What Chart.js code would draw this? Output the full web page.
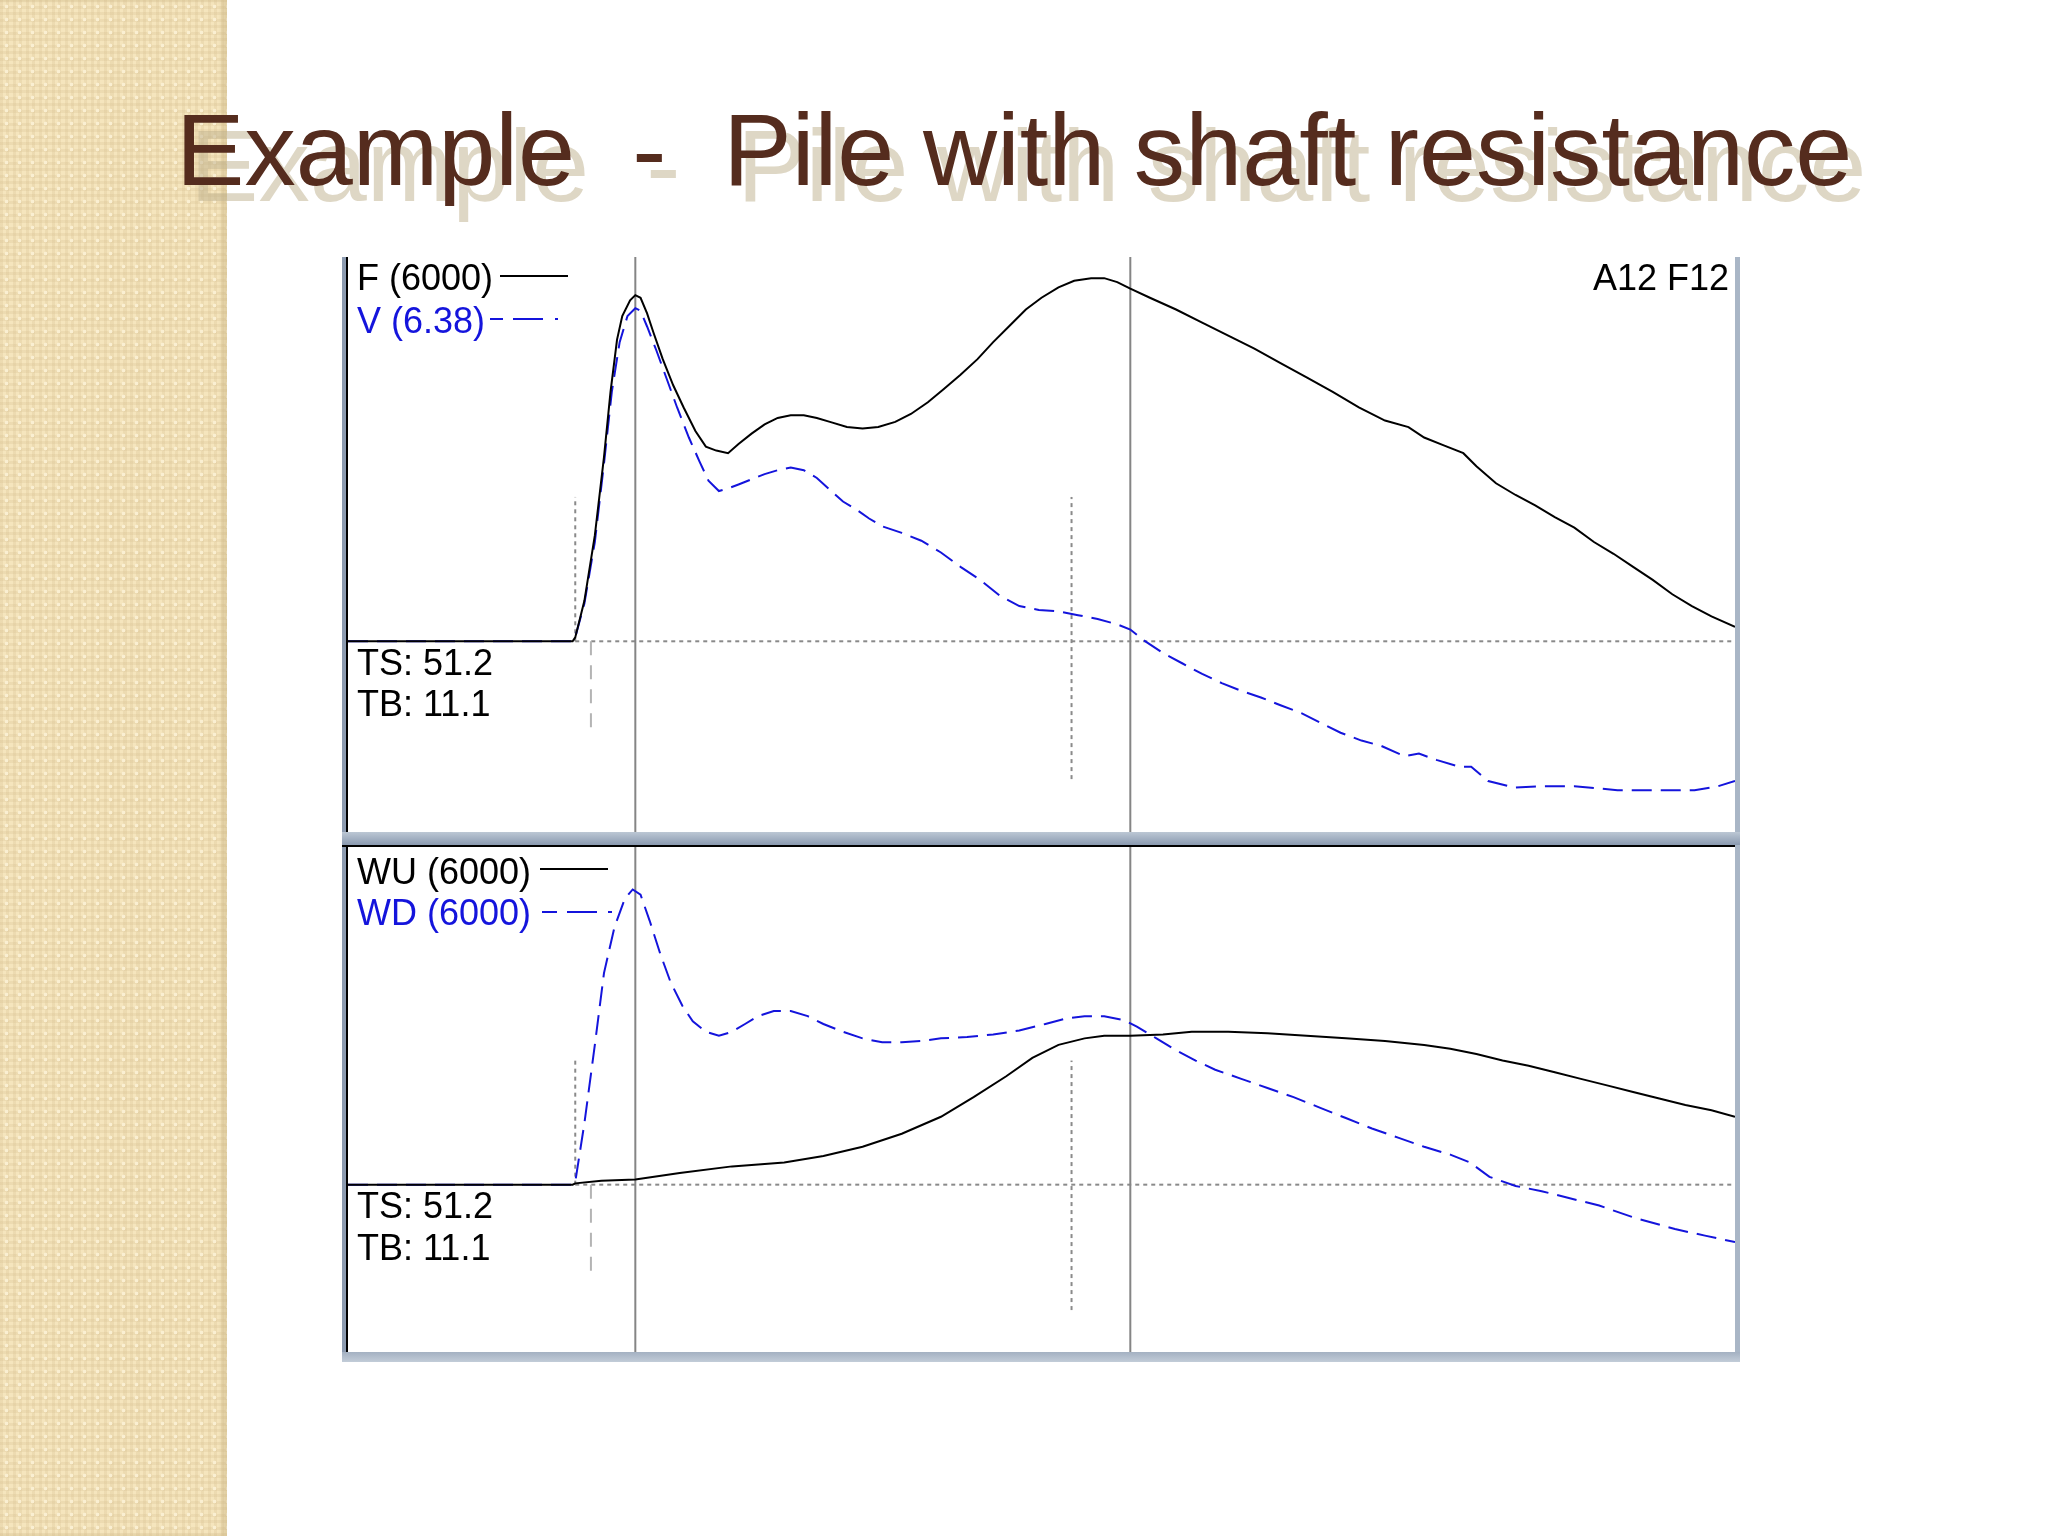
<!DOCTYPE html>
<html>
<head>
<meta charset="utf-8">
<script src="https://cdn.jsdelivr.net/npm/chart.js@4.4.1/dist/chart.umd.min.js"></script>
<style>
  html, body { margin: 0; padding: 0; background: #fff; }
  body { width: 2048px; height: 1536px; position: relative; overflow: hidden; font-family: "Liberation Sans", Arial, sans-serif; }
  .strip {
    position: absolute; left: 0; top: 0; width: 227px; height: 1536px;
    background-color: #f5e5bd;
    background-image:
      radial-gradient(circle, #faefd2 1.5px, transparent 2.2px),
      repeating-linear-gradient(90deg, rgba(215,192,145,0.28) 0 3px, transparent 3px 6.5px),
      repeating-linear-gradient(0deg, rgba(215,192,145,0.28) 0 3px, transparent 3px 6.5px);
    background-size: 13px 13px, auto, auto;
    box-shadow: inset -5px 0 4px rgba(190,165,115,0.35);
  }
  .title {
    position: absolute; left: 176px; top: 99px; font-size: 102.6px; line-height: 102px;
    white-space: pre; color: #552c1e;
    text-shadow: 14px 16px 0 rgba(190,176,140,0.5);
  }
  .lbl { position: absolute; font-size: 36px; line-height: 36px; white-space: pre; color: #000; }
  .blue { color: #1414dc; }
  canvas { position: absolute; }
  .bar { position: absolute; }
  svg { position: absolute; left: 0; top: 0; }
</style>
</head>
<body>
<div class="strip"></div>
<div class="title">Example  -  Pile with shaft resistance</div>

<!-- panel frame -->
<div class="bar" style="left:342px;top:257px;width:4px;height:1105px;background:#8c9bb0"></div>
<div class="bar" style="left:346px;top:257px;width:2px;height:1095px;background:#000"></div>
<div class="bar" style="left:1735px;top:257px;width:5px;height:1105px;background:#a9b6c6"></div>
<div class="bar" style="left:342px;top:832px;width:1398px;height:13px;background:linear-gradient(#bcc7d4,#8a9ab0)"></div>
<div class="bar" style="left:342px;top:845px;width:1393px;height:2px;background:#000"></div>
<div class="bar" style="left:342px;top:1352px;width:1398px;height:10px;background:linear-gradient(#a4b1c2,#c2ccd8)"></div>

<canvas id="topChart" width="1387" height="575" style="left:348px;top:257px"></canvas>
<canvas id="bottomChart" width="1387" height="505" style="left:348px;top:847px"></canvas>

<!-- labels -->
<div class="lbl" style="left:357px;top:260px">F (6000)</div>
<div class="lbl blue" style="left:357px;top:303px">V (6.38)</div>
<div class="lbl" style="left:1593px;top:260px">A12 F12</div>
<div class="lbl" style="left:357px;top:645px">TS: 51.2</div>
<div class="lbl" style="left:357px;top:686px">TB: 11.1</div>

<div class="lbl" style="left:357px;top:854px">WU (6000)</div>
<div class="lbl blue" style="left:357px;top:895px">WD (6000)</div>
<div class="lbl" style="left:357px;top:1188px">TS: 51.2</div>
<div class="lbl" style="left:357px;top:1230px">TB: 11.1</div>

<svg width="2048" height="1536">
  <line x1="500" y1="276" x2="568" y2="276" stroke="#000" stroke-width="2"/>
  <line x1="490" y1="319" x2="558" y2="319" stroke="#1414dc" stroke-width="2" stroke-dasharray="13 10 30 12 3 100"/>
  <line x1="540" y1="869" x2="608" y2="869" stroke="#000" stroke-width="2"/>
  <line x1="542" y1="912" x2="612" y2="912" stroke="#1414dc" stroke-width="2" stroke-dasharray="15 10 30 11 4 100"/>
</svg>

<script>
// time axis in ms, forces in kN (velocity shown in force units)
var fTime = [0, 8.6, 8.7, 9.05, 9.45, 9.8, 10.05, 10.3, 10.5, 10.8, 11.0, 11.2, 11.45, 11.7, 12.05, 12.45, 12.85, 13.3, 13.7, 14.1, 14.55, 14.95, 15.45, 15.95, 16.45, 16.95, 17.45, 17.95, 18.45, 19.1, 19.7, 20.3, 20.95, 21.55, 22.2, 22.8, 23.45, 24.1, 24.7, 25.3, 25.95, 26.55, 27.2, 27.8, 28.45, 28.95, 29.45, 29.95, 30.7, 31.7, 32.7, 33.7, 34.7, 35.7, 36.7, 37.7, 38.7, 39.7, 40.6, 41.2, 41.95, 42.7, 43.2, 43.95, 44.7, 45.45, 46.2, 46.95, 47.7, 48.45, 49.2, 49.95, 50.7, 51.45, 52.2, 53.1];
var fForce = [0, 0, 60, 620, 1620, 2820, 3820, 4620, 4980, 5220, 5300, 5260, 5020, 4720, 4320, 3920, 3580, 3220, 2980, 2920, 2880, 3020, 3180, 3320, 3420, 3460, 3460, 3420, 3360, 3280, 3260, 3280, 3360, 3480, 3660, 3860, 4080, 4320, 4580, 4820, 5080, 5260, 5420, 5520, 5560, 5560, 5500, 5400, 5260, 5080, 4880, 4680, 4480, 4260, 4040, 3820, 3580, 3380, 3280, 3120, 3000, 2880, 2680, 2420, 2240, 2080, 1900, 1740, 1520, 1340, 1140, 940, 720, 540, 380, 220];

var vTime = [0, 8.6, 8.7, 9.05, 9.45, 9.8, 10.1, 10.4, 10.7, 11.0, 11.2, 11.45, 11.8, 12.2, 12.6, 13.05, 13.45, 13.8, 14.2, 14.55, 14.95, 15.45, 15.95, 16.45, 16.95, 17.45, 17.95, 18.45, 18.95, 19.45, 19.95, 20.45, 21.2, 21.95, 22.7, 23.45, 24.2, 24.95, 25.7, 26.45, 27.2, 27.95, 28.7, 29.45, 29.95, 30.45, 31.2, 31.95, 32.7, 33.45, 34.2, 34.95, 35.7, 36.5, 37.2, 38.0, 38.8, 39.55, 40.45, 41.0, 41.7, 42.55, 43.0, 43.65, 44.65, 45.7, 46.95, 48.6, 49.95, 51.55, 52.45, 53.1];
var vForce = [0, 0, 60, 580, 1520, 2720, 3820, 4580, 4980, 5100, 5060, 4820, 4460, 4020, 3580, 3120, 2760, 2460, 2300, 2340, 2400, 2480, 2560, 2620, 2660, 2620, 2500, 2320, 2140, 2020, 1880, 1760, 1660, 1540, 1360, 1140, 940, 700, 540, 480, 460, 400, 340, 260, 180, 20, -180, -340, -500, -640, -760, -860, -980, -1100, -1240, -1400, -1520, -1600, -1760, -1720, -1820, -1920, -1920, -2140, -2240, -2220, -2220, -2280, -2280, -2280, -2220, -2140];

var wuTime = [0, 8.6, 8.7, 9.7, 11.0, 12.7, 14.7, 16.7, 18.2, 19.7, 21.2, 22.7, 23.95, 25.2, 26.2, 27.2, 28.2, 28.95, 29.95, 31.2, 32.3, 33.7, 35.2, 36.7, 38.2, 39.7, 41.2, 42.2, 43.2, 44.2, 45.2, 46.2, 47.2, 48.2, 49.2, 50.2, 51.2, 52.2, 53.1];
var wuForce = [0, 0, 20, 60, 80, 180, 280, 340, 440, 580, 780, 1040, 1340, 1660, 1940, 2140, 2240, 2280, 2280, 2300, 2340, 2340, 2320, 2280, 2240, 2200, 2140, 2080, 2000, 1900, 1820, 1720, 1620, 1520, 1420, 1320, 1220, 1140, 1040];

var wdTime = [0, 8.6, 8.7, 9.05, 9.45, 9.8, 10.2, 10.6, 10.9, 11.2, 11.55, 11.95, 12.35, 12.8, 13.2, 13.7, 14.2, 14.7, 15.2, 15.7, 16.3, 16.95, 17.6, 18.2, 18.95, 19.7, 20.45, 21.2, 21.95, 22.7, 23.7, 24.7, 25.7, 26.7, 27.45, 28.2, 28.95, 29.7, 30.2, 30.95, 31.7, 32.45, 33.2, 34.2, 35.2, 36.2, 37.2, 38.2, 39.2, 40.2, 41.2, 42.2, 42.95, 43.7, 44.7, 45.7, 46.7, 47.9, 49.2, 50.8, 51.95, 53.1];
var wdForce = [0, 0, 40, 940, 2140, 3240, 3940, 4380, 4520, 4440, 4040, 3540, 3100, 2740, 2500, 2340, 2280, 2340, 2460, 2580, 2660, 2660, 2580, 2460, 2340, 2240, 2180, 2180, 2200, 2240, 2260, 2300, 2360, 2460, 2540, 2580, 2580, 2520, 2420, 2240, 2060, 1900, 1760, 1620, 1480, 1340, 1180, 1020, 860, 720, 580, 460, 340, 120, -20, -100, -200, -320, -500, -680, -780, -880];

// cursor and marker times (ms)
var cursorTimes = [11.0, 29.95];
var markerTimes = [8.7, 9.3, 27.7];
var tEnd = 53.1;

function pts(t, v) {
  return t.map(function (x, i) { return { x: x, y: v[i] }; });
}
function seg(x1, y1, x2, y2, color, dash) {
  return { data: [{ x: x1, y: y1 }, { x: x2, y: y2 }], borderColor: color, borderWidth: 2, borderDash: dash || [] };
}

function makeChart(id, solid, dashed, yMin, yMax, dotTop, dashBot, dot2Top, dot2Bot) {
  var ds = [
    { data: solid, borderColor: '#000', borderWidth: 2 },
    { data: dashed, borderColor: '#1414dc', borderWidth: 2, borderDash: [20, 9] },
    seg(cursorTimes[0], yMin, cursorTimes[0], yMax, '#858585'),
    seg(cursorTimes[1], yMin, cursorTimes[1], yMax, '#858585'),
    seg(markerTimes[0], 0, markerTimes[0], dotTop, '#8a8a8a', [4, 4]),
    seg(markerTimes[1], 0, markerTimes[1], dashBot, '#b4b4b4', [14, 10]),
    seg(markerTimes[2], dot2Bot, markerTimes[2], dot2Top, '#8a8a8a', [4, 4]),
    seg(markerTimes[0], 0, tEnd, 0, '#8a8a8a', [4, 4])
  ];
  return new Chart(document.getElementById(id).getContext('2d'), {
    type: 'line',
    data: { datasets: ds },
    options: {
      responsive: false,
      animation: false,
      devicePixelRatio: 1,
      layout: { padding: 0 },
      elements: { point: { radius: 0 }, line: { tension: 0 } },
      plugins: { legend: { display: false }, tooltip: { enabled: false } },
      scales: {
        x: { type: 'linear', min: 0, max: tEnd, display: false },
        y: { min: yMin, max: yMax, display: false }
      }
    }
  });
}

makeChart('topChart', pts(fTime, fForce), pts(vTime, vForce), -2920, 5884, 2210, -1460, 2210, -2110);
makeChart('bottomChart', pts(wuTime, wuForce), pts(wdTime, wdForce), -2562, 5170, 1900, -1320, 1900, -1920);
</script>
</body>
</html>
